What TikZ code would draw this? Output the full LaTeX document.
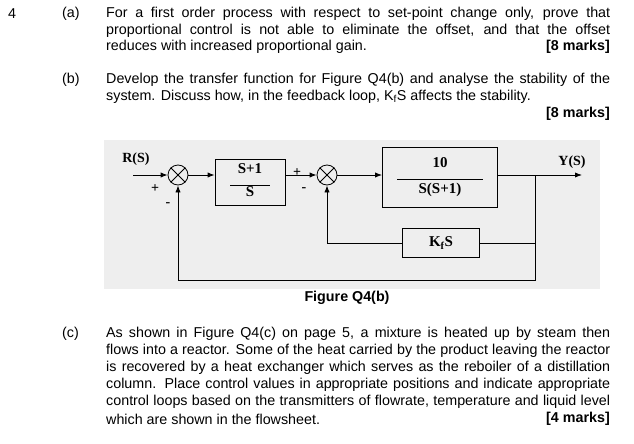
\documentclass[tikz,border=0pt]{standalone}
\usepackage{fontspec}
\setmainfont{Liberation Sans}
\newfontfamily\dgfont{Liberation Serif}
\usetikzlibrary{arrows.meta}
\newcommand\jline[1]{\makebox[504pt][s]{#1}}
\begin{document}
\begin{tikzpicture}[x=1pt,y=-1pt,
  txt/.style={anchor=west,inner sep=0,font=\fontsize{14.3}{17}\selectfont},
  mk/.style={anchor=east,inner sep=0,font=\fontsize{14.3}{17}\selectfont\bfseries},
  blk/.style={draw,thick,font=\fontsize{15}{15}\selectfont\dgfont\bfseries},
  sum/.style={draw,thick,circle,minimum size=20pt,inner sep=0},
  ar/.style={thick,-{Latex[length=7pt]}},
  ln/.style={thick},
  sg/.style={font=\fontsize{14}{14}\selectfont\dgfont\bfseries,inner sep=0}]
\useasboundingbox (0,0) rectangle (634,444);
\node[txt] (n4) at (8,14) {4};
\node[txt] (qa) at (62,14) {(a)};
\node[txt] (a1) at (106,14) {\jline{For a first order process with respect to set-point change only, prove that}};
\node[txt] (a2) at (106,31) {\jline{proportional control is not able to eliminate the offset, and that the offset}};
\node[txt] (a3) at (106,47) {reduces with increased proportional gain.};
\node[mk] (m1) at (610,47) {[8 marks]};
\node[txt] (qb) at (62,80) {(b)};
\node[txt] (b1) at (106,80) {\jline{Develop the transfer function for Figure Q4(b) and analyse the stability of the}};
\node[txt] (b2) at (106,97) {system. Discuss how, in the feedback loop, K\textsubscript{f}S affects the stability.};
\node[mk] (m2) at (610,114) {[8 marks]};
\fill[gray!13] (104,140) rectangle (600,289);
\node[sg] (R) at (136,159) {R(S)};
\node[sg] (Y) at (572,162) {Y(S)};
\coordinate (in) at (133,175);
\node[sum] (s1) at (178,175) {};
\draw[thick] (s1.north west)--(s1.south east) (s1.north east)--(s1.south west);
\node[blk,minimum width=70pt,minimum height=46pt] (g1) at (250,182) {\begin{tabular}{c}S+1\\[-3pt]\rule{40pt}{0.8pt}\\[-4pt]S\end{tabular}};
\node[sum] (s2) at (327,175) {};
\draw[thick] (s2.north west)--(s2.south east) (s2.north east)--(s2.south west);
\node[blk,minimum width=115pt,minimum height=60pt] (g2) at (440,177) {\begin{tabular}{c}10\\[-2pt]\rule{86pt}{0.8pt}\\[-2pt]S(S+1)\end{tabular}};
\node[blk,minimum width=77pt,minimum height=29pt] (h) at (441,243) {K\textsubscript{f}S};
\coordinate (br) at (535,175);
\coordinate (out) at (582,175);
\draw[ar] (in)--(s1);
\draw[ar] (s1)--(g1.west|-s1);
\draw[ar] (g1.east|-s2)--(s2);
\draw[ar] (s2)--(g2.west|-s2);
\draw[ar] (g2.east|-s2)--(out);
\draw[ln] (br)--(br|-h)--(h.east);
\draw[ar] (h.west)--(s2|-h)--(s2.south);
\draw[ar] (br|-h)--(535,280)--(178,280)--(s1.south);
\node[sg] (p1) at (155,189) {+};
\node[sg] (m1s) at (168,205) {-};
\node[sg] (p2) at (297,173) {+};
\node[sg] (m2s) at (304,190) {-};
\node[mk,anchor=center] (cap) at (347,298) {Figure Q4(b)};
\node[txt] (qc) at (62,334) {(c)};
\node[txt] (c1) at (106,334) {\jline{As shown in Figure Q4(c) on page 5, a mixture is heated up by steam then}};
\node[txt] (c2) at (106,351) {\jline{flows into a reactor. Some of the heat carried by the product leaving the reactor}};
\node[txt] (c3) at (106,368) {\jline{is recovered by a heat exchanger which serves as the reboiler of a distillation}};
\node[txt] (c4) at (106,385) {\jline{column. Place control values in appropriate positions and indicate appropriate}};
\node[txt] (c5) at (106,402) {\jline{control loops based on the transmitters of flowrate, temperature and liquid level}};
\node[txt] (c6) at (106,419) {which are shown in the flowsheet.};
\node[mk] (m3) at (610,419) {[4 marks]};
\end{tikzpicture}
\end{document}
